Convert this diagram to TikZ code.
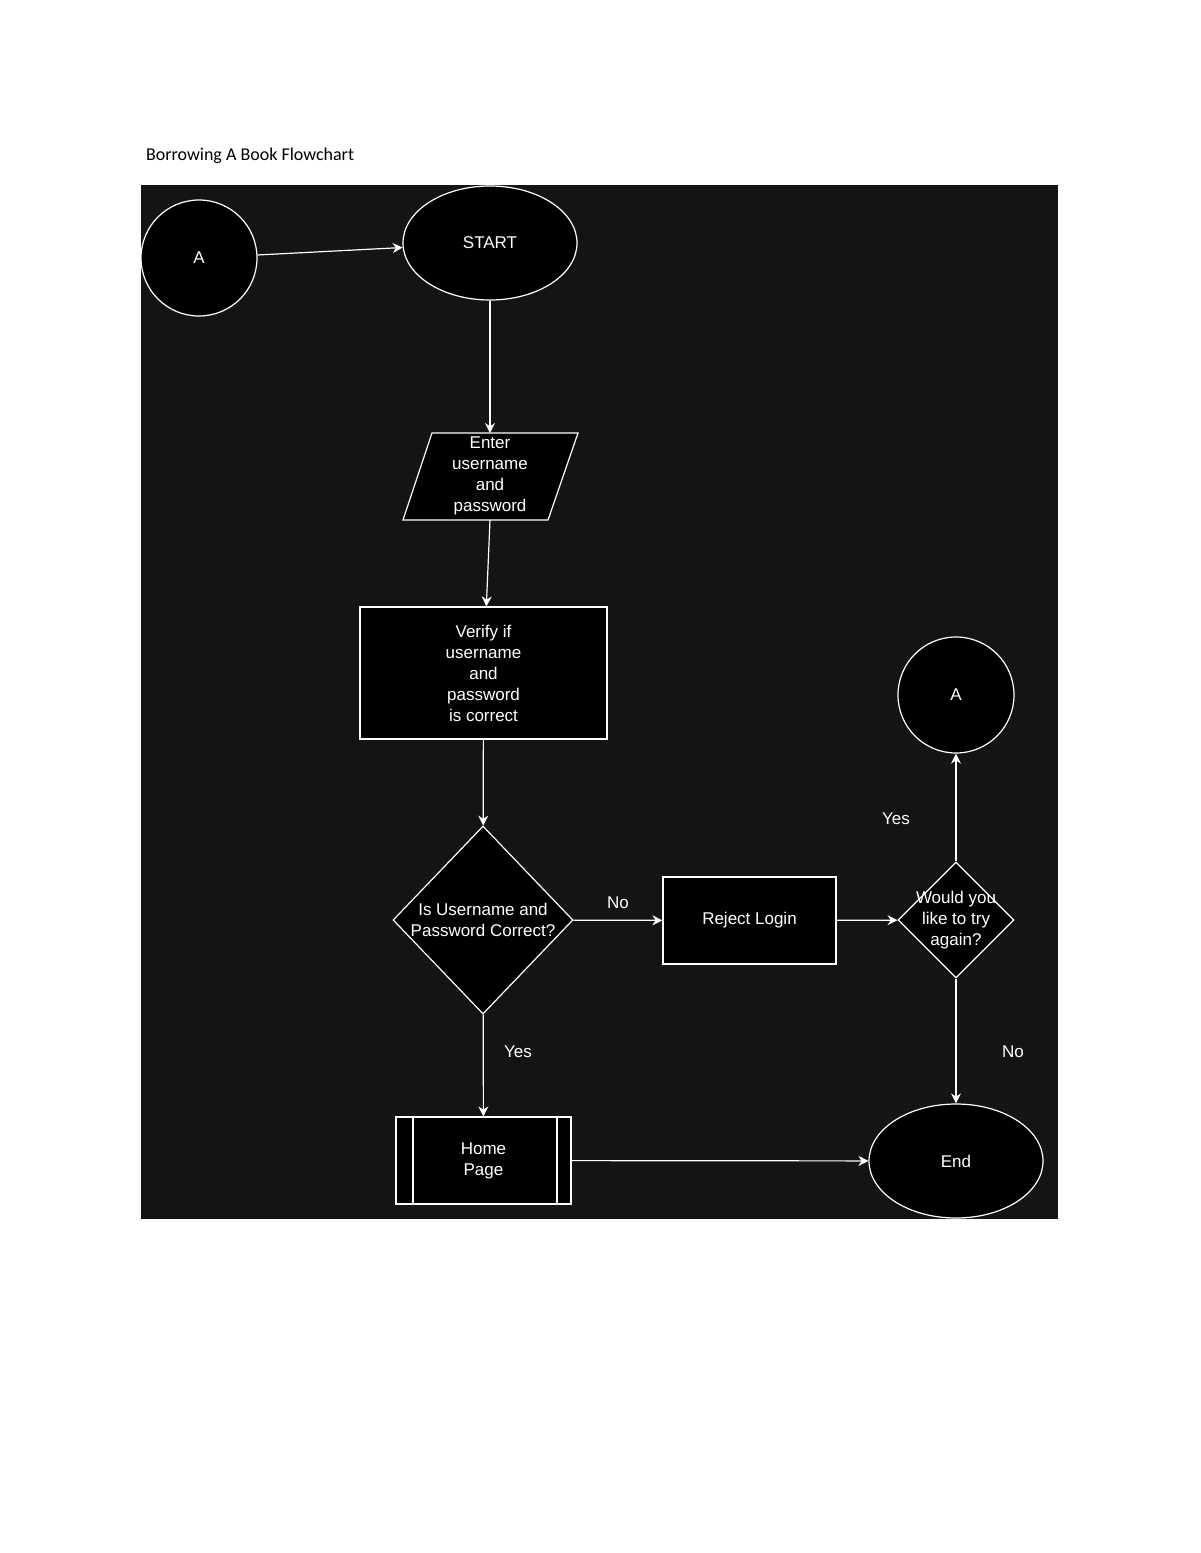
\documentclass[tikz,border=0pt]{standalone}
\usepackage{fontspec}
\setmainfont{Liberation Sans}
\newfontfamily\titlefont{Carlito}
\usetikzlibrary{shapes.geometric,arrows.meta}
\begin{document}
\begin{tikzpicture}[x=0.5pt,y=-0.5pt,
  shp/.style={draw=white,fill=black,line width=0.6pt},
  lbl/.style={text=white,font=\fontsize{8.5}{10.5}\selectfont,align=center},
  conn/.style={draw=white,line width=0.6pt,-{Stealth[length=5pt,width=5pt]}}]
\useasboundingbox (0,0) rectangle (1200,1553);
\fill[white] (0,0) rectangle (1200,1553);
\node[anchor=west,font=\titlefont\fontsize{9}{11}\selectfont] (title) at (139,156) {Borrowing A Book Flowchart};
\fill[black!92] (141,185) rectangle (1058,1219);
% shapes
\node[shp,circle,minimum size=58pt,inner sep=0] (a1) at (199,258) {};
\node[lbl] at (a1) {A};
\node[shp,ellipse,minimum width=87pt,minimum height=57pt,inner sep=0] (start) at (490,243) {};
\node[lbl] at (490,243) {START};
\draw[shp] (432,433) -- (578,433) -- (548,520) -- (403,520) -- cycle;
\node[lbl] (enter) at (490,476) {Enter\\username\\and\\password};
\coordinate (enterT) at (490,433); \coordinate (enterB) at (490,520);
\node[shp,minimum width=123.5pt,minimum height=66pt,inner sep=0] (verify) at (483.5,673) {};
\node[lbl] at (483.5,673) {Verify if\\username\\and\\password\\is correct};
\node[shp,diamond,minimum width=90pt,minimum height=94pt,inner sep=0] (d1) at (483,920) {};
\node[lbl] at (483,920) {Is Username and\\Password Correct?};
\node[shp,minimum width=86.5pt,minimum height=43.5pt,inner sep=0] (reject) at (749.5,920.5) {};
\node[lbl] at (reject) {Reject Login};
\node[shp,diamond,minimum width=58pt,minimum height=58pt,inner sep=0] (d2) at (956,920) {};
\node[lbl] at (956,920) {Would you\\like to try\\again?};
\node[shp,circle,minimum size=58pt,inner sep=0] (a2) at (956,695) {};
\node[lbl] at (a2) {A};
\node[shp,ellipse,minimum width=87pt,minimum height=57pt,inner sep=0] (end) at (956,1161) {};
\node[lbl] at (end) {End};
\node[shp,minimum width=87.5pt,minimum height=43.5pt,inner sep=0] (home) at (483.5,1160.5) {};
\draw[white,line width=0.6pt] (413,1117) -- (413,1204) (557,1117) -- (557,1204);
\node[lbl] at (483.5,1160.5) {Home\\Page};
% connectors
\draw[conn] (a1) -- (start);
\draw[conn] (start) -- (enterT);
\draw[conn] (enterB) -- (verify);
\draw[conn] (verify) -- (d1);
\draw[conn] (d1) -- (reject) node[lbl,midway,above=2pt] {No};
\draw[conn] (reject) -- (d2);
\draw[conn] (d2) -- (a2);
\draw[conn] (d2) -- (end);
\draw[conn] (d1) -- (home);
\draw[conn] (home) -- (end);
\node[lbl] at (896,819) {Yes};
\node[lbl] at (518,1052) {Yes};
\node[lbl] at (1013,1052) {No};
\end{tikzpicture}
\end{document}
